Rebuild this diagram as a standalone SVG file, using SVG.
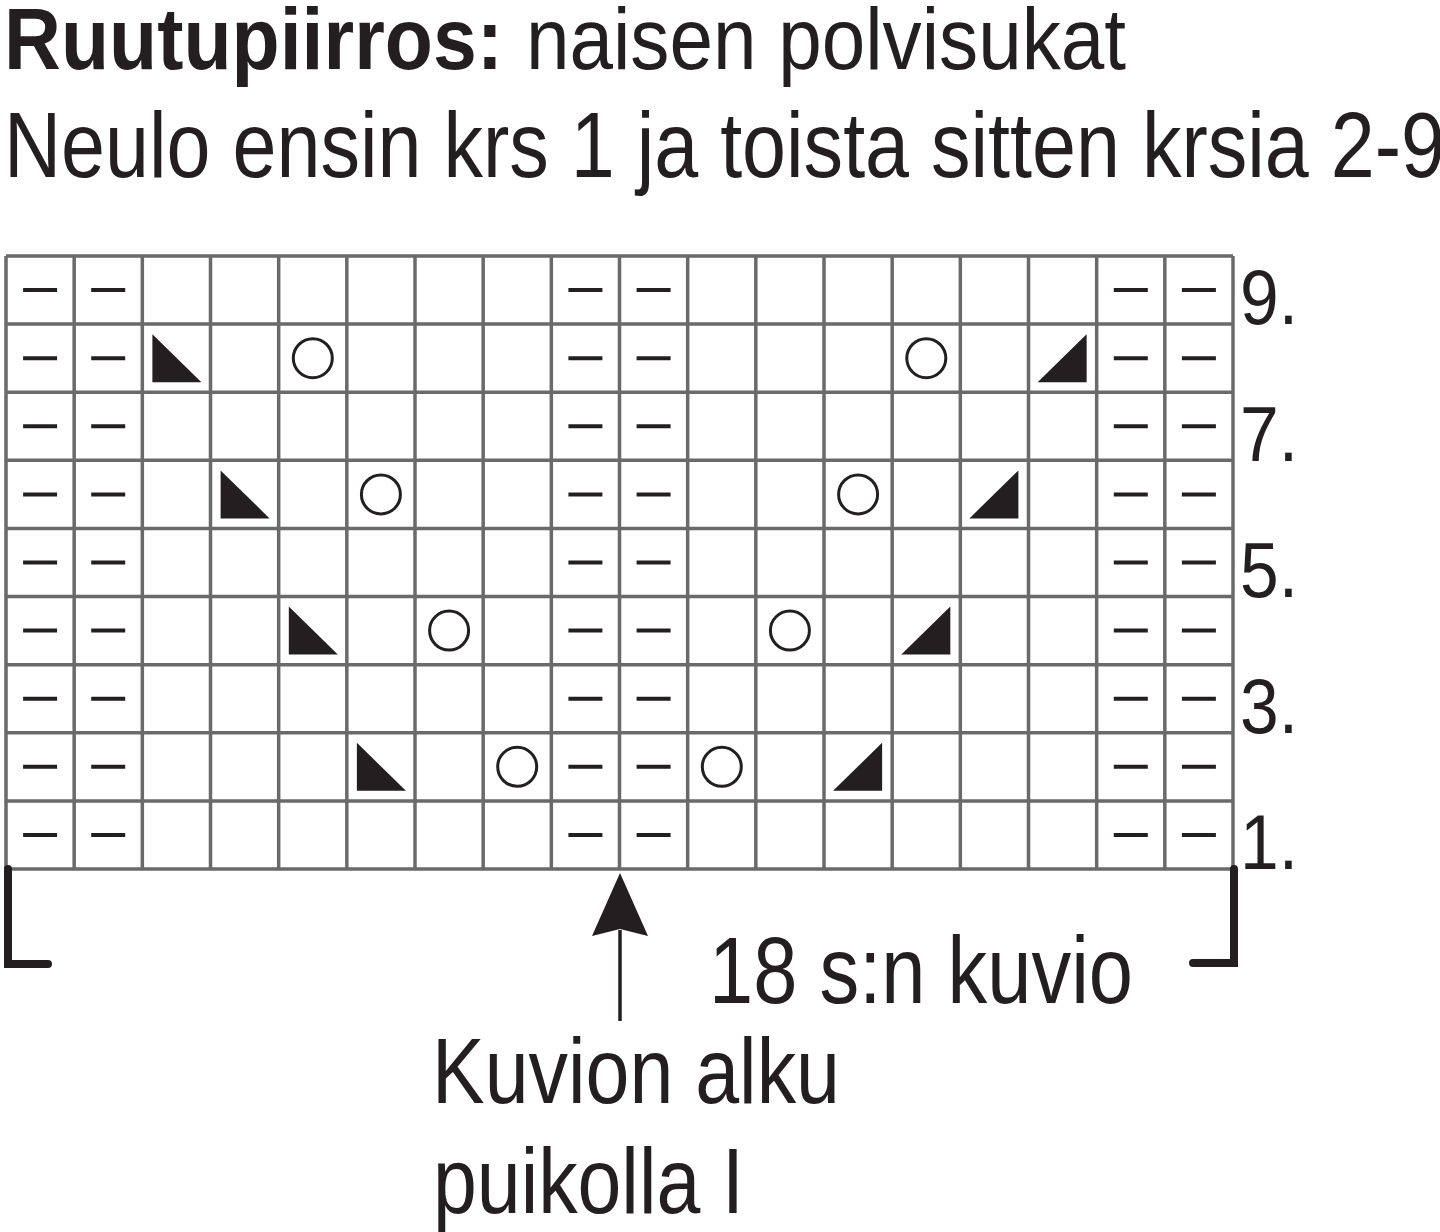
<svg xmlns="http://www.w3.org/2000/svg" width="1440" height="1232" viewBox="0 0 1440 1232">
<style>
  .t { font-family: "Liberation Sans", Arial, sans-serif; fill: #231f20; }
  .b { font-weight: bold; }
  .grid { fill: none; stroke: #6a6a6a; stroke-width: 3.5; }
  .ink { stroke: #231f20; }
</style>
<defs>
  <line id="dash" x1="-17" y1="0" x2="17" y2="0" stroke="#231f20" stroke-width="4"/>
  <circle id="yo" cx="0" cy="0" r="19.5" fill="none" stroke="#231f20" stroke-width="3"/>
  <polygon id="tl" points="-24,-24 -24,24 25,24" fill="#231f20"/>
  <polygon id="tr" points="24,-24 24,24 -25,24" fill="#231f20"/>
</defs>
<rect width="1440" height="1232" fill="#ffffff"/>

<g id="title">
  <text class="t b" x="4" y="69" font-size="87" textLength="499" lengthAdjust="spacingAndGlyphs">Ruutupiirros:</text>
  <text class="t" x="526" y="69" font-size="87" textLength="600" lengthAdjust="spacingAndGlyphs">naisen polvisukat</text>
  <text class="t" x="4" y="177" font-size="92" textLength="1441" lengthAdjust="spacingAndGlyphs">Neulo ensin krs 1 ja toista sitten krsia 2-9</text>
</g>

<g id="grid">
  <path class="grid" d="M6 256V869M74.17 256V869M142.33 256V869M210.5 256V869M278.67 256V869M346.83 256V869M415 256V869M483.17 256V869M551.33 256V869M619.5 256V869M687.67 256V869M755.83 256V869M824 256V869M892.17 256V869M960.33 256V869M1028.5 256V869M1096.67 256V869M1164.83 256V869M1233 256V869M6 256H1233M6 324.11H1233M6 392.22H1233M6 460.33H1233M6 528.44H1233M6 596.56H1233M6 664.67H1233M6 732.78H1233M6 800.89H1233M6 869H1233"/>
</g>

<g id="purl-stitches">
  <use href="#dash" x="40.1" y="290.1"/><use href="#dash" x="108.2" y="290.1"/><use href="#dash" x="585.4" y="290.1"/><use href="#dash" x="653.6" y="290.1"/><use href="#dash" x="1130.8" y="290.1"/><use href="#dash" x="1198.9" y="290.1"/>
  <use href="#dash" x="40.1" y="358.2"/><use href="#dash" x="108.2" y="358.2"/><use href="#dash" x="585.4" y="358.2"/><use href="#dash" x="653.6" y="358.2"/><use href="#dash" x="1130.8" y="358.2"/><use href="#dash" x="1198.9" y="358.2"/>
  <use href="#dash" x="40.1" y="426.3"/><use href="#dash" x="108.2" y="426.3"/><use href="#dash" x="585.4" y="426.3"/><use href="#dash" x="653.6" y="426.3"/><use href="#dash" x="1130.8" y="426.3"/><use href="#dash" x="1198.9" y="426.3"/>
  <use href="#dash" x="40.1" y="494.4"/><use href="#dash" x="108.2" y="494.4"/><use href="#dash" x="585.4" y="494.4"/><use href="#dash" x="653.6" y="494.4"/><use href="#dash" x="1130.8" y="494.4"/><use href="#dash" x="1198.9" y="494.4"/>
  <use href="#dash" x="40.1" y="562.5"/><use href="#dash" x="108.2" y="562.5"/><use href="#dash" x="585.4" y="562.5"/><use href="#dash" x="653.6" y="562.5"/><use href="#dash" x="1130.8" y="562.5"/><use href="#dash" x="1198.9" y="562.5"/>
  <use href="#dash" x="40.1" y="630.6"/><use href="#dash" x="108.2" y="630.6"/><use href="#dash" x="585.4" y="630.6"/><use href="#dash" x="653.6" y="630.6"/><use href="#dash" x="1130.8" y="630.6"/><use href="#dash" x="1198.9" y="630.6"/>
  <use href="#dash" x="40.1" y="698.7"/><use href="#dash" x="108.2" y="698.7"/><use href="#dash" x="585.4" y="698.7"/><use href="#dash" x="653.6" y="698.7"/><use href="#dash" x="1130.8" y="698.7"/><use href="#dash" x="1198.9" y="698.7"/>
  <use href="#dash" x="40.1" y="766.8"/><use href="#dash" x="108.2" y="766.8"/><use href="#dash" x="585.4" y="766.8"/><use href="#dash" x="653.6" y="766.8"/><use href="#dash" x="1130.8" y="766.8"/><use href="#dash" x="1198.9" y="766.8"/>
  <use href="#dash" x="40.1" y="834.9"/><use href="#dash" x="108.2" y="834.9"/><use href="#dash" x="585.4" y="834.9"/><use href="#dash" x="653.6" y="834.9"/><use href="#dash" x="1130.8" y="834.9"/><use href="#dash" x="1198.9" y="834.9"/>
</g>

<g id="row-8">
  <use href="#tl" x="176.4" y="358.2"/><use href="#yo" x="312.8" y="358.2"/><use href="#yo" x="926.3" y="358.2"/><use href="#tr" x="1062.6" y="358.2"/>
</g>
<g id="row-6">
  <use href="#tl" x="244.6" y="494.4"/><use href="#yo" x="380.9" y="494.4"/><use href="#yo" x="858.1" y="494.4"/><use href="#tr" x="994.4" y="494.4"/>
</g>
<g id="row-4">
  <use href="#tl" x="312.8" y="630.6"/><use href="#yo" x="449.1" y="630.6"/><use href="#yo" x="789.9" y="630.6"/><use href="#tr" x="926.3" y="630.6"/>
</g>
<g id="row-2">
  <use href="#tl" x="380.9" y="766.8"/><use href="#yo" x="517.2" y="766.8"/><use href="#yo" x="721.8" y="766.8"/><use href="#tr" x="858.1" y="766.8"/>
</g>

<g id="row-numbers">
  <text class="t" x="1240" y="324" font-size="77" textLength="58" lengthAdjust="spacingAndGlyphs">9.</text>
  <text class="t" x="1240" y="460.5" font-size="77" textLength="58" lengthAdjust="spacingAndGlyphs">7.</text>
  <text class="t" x="1240" y="596.6" font-size="77" textLength="58" lengthAdjust="spacingAndGlyphs">5.</text>
  <text class="t" x="1240" y="732.8" font-size="77" textLength="58" lengthAdjust="spacingAndGlyphs">3.</text>
  <text class="t" x="1240" y="869" font-size="77" textLength="58" lengthAdjust="spacingAndGlyphs">1.</text>
</g>

<g id="repeat-bracket">
  <path d="M8 869V964H48" fill="none" stroke="#231f20" stroke-width="8" stroke-linecap="round" stroke-linejoin="miter"/>
  <path d="M1234 869V963H1193" fill="none" stroke="#231f20" stroke-width="8" stroke-linecap="round" stroke-linejoin="miter"/>
  <text class="t" x="709" y="1003" font-size="95" textLength="424" lengthAdjust="spacingAndGlyphs">18 s:n kuvio</text>
</g>

<g id="connectors">
  <line x1="620" y1="930" x2="620" y2="1021" stroke="#231f20" stroke-width="3.5"/>
  <path d="M620 873L648 936L620 929L592 936Z" fill="#231f20"/>
</g>

<g id="start-label">
  <text class="t" x="432" y="1103" font-size="93" textLength="408" lengthAdjust="spacingAndGlyphs">Kuvion alku</text>
  <text class="t" x="433" y="1213" font-size="93" textLength="311" lengthAdjust="spacingAndGlyphs">puikolla I</text>
</g>
</svg>
